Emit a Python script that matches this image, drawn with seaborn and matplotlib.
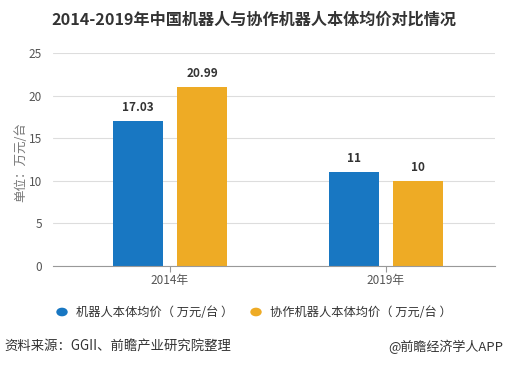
import matplotlib
matplotlib.use("Agg")
import matplotlib.pyplot as plt
import seaborn as sns
import pandas as pd

categories = ["2014年", "2019年"]
series_names = ["机器人本体均价（万元/台）", "协作机器人本体均价（万元/台）"]
robot_price = [17.03, 11]
cobot_price = [20.99, 10]
value_labels = [["17.03", "11"], ["20.99", "10"]]
yticks = [0, 5, 10, 15, 20, 25]
colors = ["#1877c2", "#eeab25"]

sns.set_theme(style="white")
plt.rcParams['font.family'] = ['Noto Sans CJK SC', 'DejaVu Sans']

df = pd.DataFrame({
    "year": categories * 2,
    "series": [series_names[0]] * 2 + [series_names[1]] * 2,
    "value": robot_price + cobot_price,
})

fig = plt.figure(figsize=(5.08, 3.68), dpi=100)
ax = fig.add_axes([53/508, 1 - 266/368, (495-53)/508, (266-53)/368])

sns.barplot(data=df, x="year", y="value", hue="series", hue_order=series_names,
            palette=colors, width=0.6, gap=0.227, ax=ax, legend=False,
            saturation=1, errorbar=None, linewidth=0)

ax.set_xlim(-(170-53)/216, 1 + (495-386)/216)
ax.set_ylim(0, 25)
ax.set_yticks(yticks)
ax.set_yticklabels([str(t) for t in yticks], fontsize=8.5, color="#555555")
ax.tick_params(axis="y", length=0, pad=8)
ax.tick_params(axis="x", length=4, color="#999999", labelsize=8.5, labelcolor="#555555", pad=2, bottom=True, width=0.8)
ax.yaxis.grid(True, color="#dddddd", linewidth=0.8)
ax.set_axisbelow(True)
for s in ["top", "right", "left"]:
    ax.spines[s].set_visible(False)
ax.spines["bottom"].set_color("#999999")
ax.spines["bottom"].set_linewidth(0.8)
ax.set_xlabel("")
ax.set_ylabel("单位：万元/台", fontsize=9, color="#777777")
ax.yaxis.set_label_coords(-0.058, 0.49)

for container, labels in zip(ax.containers, value_labels):
    ax.bar_label(container, labels=labels, padding=5, fontsize=8.5,
                 fontweight="bold", color="#333333")

fig.text(0.5, 1 - 20/368, "2014-2019年中国机器人与协作机器人本体均价对比情况",
         ha="center", va="center", fontsize=11.6, fontweight="bold", color="#333333")

# legend
for i, (name, c, x0) in enumerate(zip(series_names, colors, [62, 256])):
    fig.patches.append(plt.Circle((x0/508, 1 - 312/368), 5/508, transform=fig.transFigure,
                                  color=c, figure=fig))
    fig.text((x0 + 14)/508, 1 - 312/368, name.replace("（", "（ ").replace("）", " ）"),
             ha="left", va="center", fontsize=8.8, color="#333333")

fig.text(4/508, 1 - 347/368, "资料来源：GGII、前瞻产业研究院整理", ha="left", va="center",
         fontsize=9.6, color="#333333")
fig.text(503/508, 1 - 347/368, "@前瞻经济学人APP", ha="right", va="center",
         fontsize=9.4, color="#333333")

fig.savefig("out.png", dpi=100, facecolor="white")
